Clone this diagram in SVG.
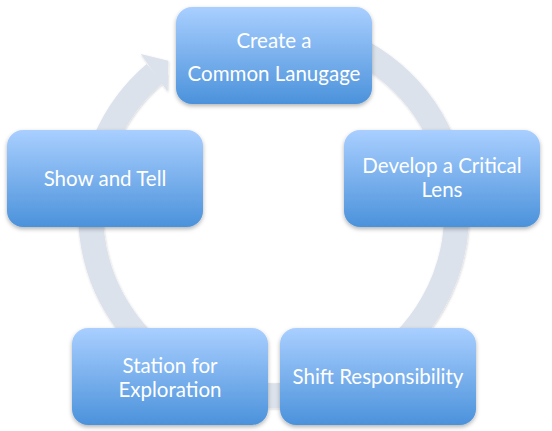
<svg xmlns="http://www.w3.org/2000/svg" width="552" height="431" viewBox="0 0 552 431">
<style>
.box{fill:url(#boxGrad);filter:url(#shadow)}
.lbl{font-family:Lato,"Liberation Sans",sans-serif;font-size:20.5px;fill:#ffffff;text-anchor:middle}
.ring{fill:none;stroke:#dbe2ec;stroke-width:25}
.head{fill:#dbe2ec}
</style>
<defs>
<linearGradient id="boxGrad" x1="0" y1="0" x2="0" y2="1">
<stop offset="0" stop-color="#a9cfff"/>
<stop offset="1" stop-color="#4b92db"/>
</linearGradient>
<filter id="shadow" x="-10%" y="-10%" width="120%" height="130%">
<feDropShadow dx="0" dy="2" stdDeviation="2" flood-color="#000" flood-opacity="0.3"/>
</filter>
<filter id="ringShadow" x="-10%" y="-10%" width="120%" height="120%">
<feDropShadow dx="0.5" dy="1" stdDeviation="1" flood-color="#000" flood-opacity="0.18"/>
</filter>
</defs>
<g id="connectors" filter="url(#ringShadow)">
<path class="ring" d="M210.9,40.7 A183.1,183.1 0 1 1 154.7,73.5"/>
<polygon class="head" points="140.7,54 168.3,60.7 167.7,91.7"/>
</g>
<g id="node-create">
<rect class="box" x="176" y="7" width="196" height="97" rx="16"/>
<text class="lbl" x="274" y="48">Create a</text>
<text class="lbl" x="274" y="81">Common Lanugage</text>
</g>
<g id="node-develop">
<rect class="box" x="344" y="130" width="196" height="97" rx="16"/>
<text class="lbl" x="442" y="173">Develop a Critical</text>
<text class="lbl" x="442" y="197">Lens</text>
</g>
<g id="node-shift">
<rect class="box" x="280" y="328" width="196" height="97" rx="16"/>
<text class="lbl" x="378" y="384">Shift Responsibility</text>
</g>
<g id="node-station">
<rect class="box" x="72" y="328" width="196" height="97" rx="16"/>
<text class="lbl" x="170" y="372.7">Station for</text>
<text class="lbl" x="170" y="396.7">Exploration</text>
</g>
<g id="node-show">
<rect class="box" x="7" y="130" width="196" height="97" rx="16"/>
<text class="lbl" x="105" y="186">Show and Tell</text>
</g>
</svg>
